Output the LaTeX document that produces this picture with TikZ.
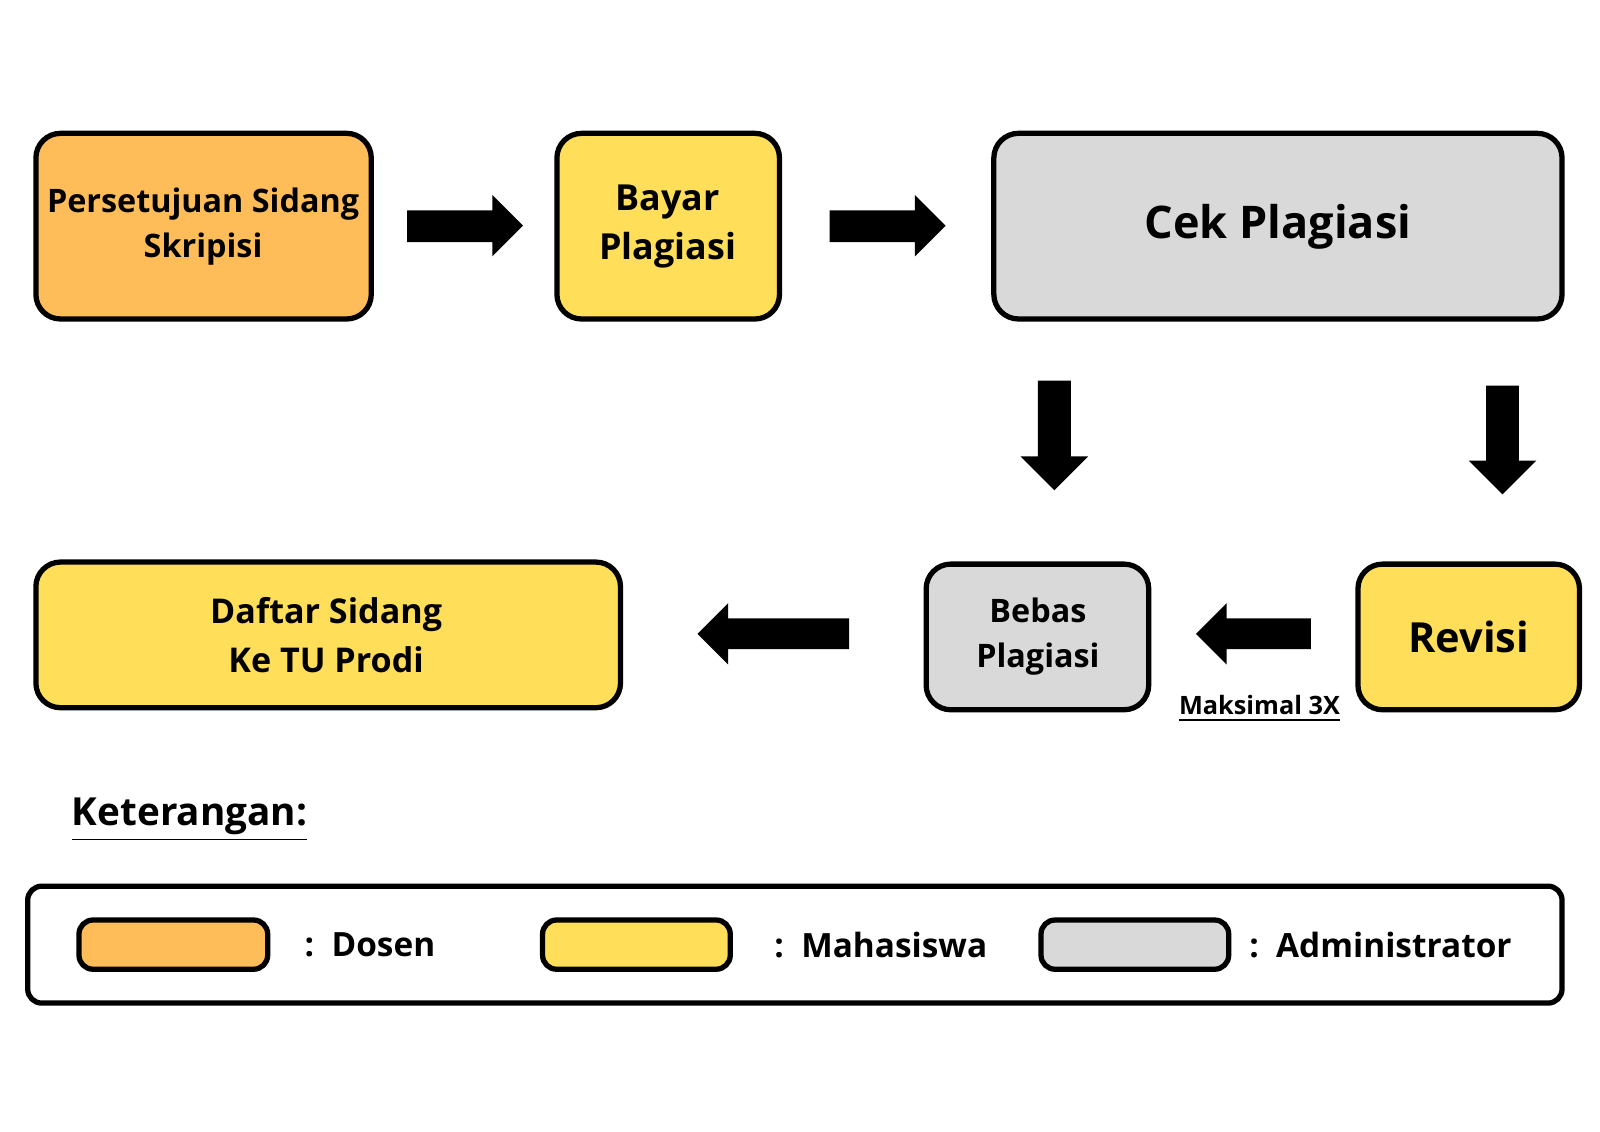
\documentclass[tikz,border=0pt]{standalone}
\usepackage{fontspec}
\setmainfont{Open Sans}[BoldFont={* Bold}]
\definecolor{dosen}{HTML}{FFBD59}
\definecolor{mhs}{HTML}{FFDE59}
\definecolor{adm}{HTML}{D9D9D9}
\tikzset{
  box/.style={draw=black,line width=1.5pt,rounded corners=7pt,align=center,font=\bfseries},
  legbox/.style={draw=black,line width=1.5pt,rounded corners=4pt},
  blk/.style={fill=black,draw=none}
}
\begin{document}
\begin{tikzpicture}[x=0.01026cm,y=-0.01026cm]
\useasboundingbox (0,0) rectangle (1560,1103);
% boxes
\draw[box,fill=dosen] (35,130) rectangle (362,311);
\node[font=\bfseries\fontsize{9.2}{13}\selectfont,align=center] (a) at (198,221) {Persetujuan Sidang\\Skripisi};
\draw[box,fill=mhs] (543,130) rectangle (760,311);
\node[font=\bfseries\fontsize{10.2}{14}\selectfont,align=center] (b) at (651,221) {Bayar\\Plagiasi};
\draw[box,fill=adm] (969,130) rectangle (1523,311);
\node[font=\bfseries\fontsize{12.8}{15}\selectfont] (c) at (1246,221) {Cek Plagiasi};
\draw[box,fill=mhs] (35,548) rectangle (605,690);
\node[font=\bfseries\fontsize{9.7}{13.8}\selectfont,align=center] (d) at (318,619) {Daftar Sidang\\Ke TU Prodi};
\draw[box,fill=adm] (903,550) rectangle (1120,692);
\node[font=\bfseries\fontsize{9.2}{12.8}\selectfont,align=center] (e) at (1012,621) {Bebas\\Plagiasi};
\draw[box,fill=mhs] (1324,550) rectangle (1540,692);
\node[font=\bfseries\fontsize{11.8}{14}\selectfont] (f) at (1432,621) {Revisi};
% arrows right
\fill[blk] (397,205) -- (480,205) -- (480,190) -- (510,220) -- (480,250) -- (480,236) -- (397,236) -- cycle;
\fill[blk] (809,205) -- (892,205) -- (892,190) -- (922,220) -- (892,250) -- (892,236) -- (809,236) -- cycle;
% arrows down
\fill[blk] (1012,371) -- (1044,371) -- (1044,445) -- (1061,445) -- (1028,478) -- (995,445) -- (1012,445) -- cycle;
\fill[blk] (1449,376) -- (1481,376) -- (1481,449) -- (1498,449) -- (1465,482) -- (1432,449) -- (1449,449) -- cycle;
% arrows left
\fill[blk] (828,603) -- (710,603) -- (710,588) -- (680,618) -- (710,648) -- (710,633) -- (828,633) -- cycle;
\fill[blk] (1278,603) -- (1196,603) -- (1196,588) -- (1166,618) -- (1196,648) -- (1196,633) -- (1278,633) -- cycle;
\node[font=\bfseries\fontsize{7.2}{8}\selectfont] (m) at (1228,691) {\underline{Maksimal 3X}};
% legend
\node[font=\bfseries\fontsize{11}{13}\selectfont,anchor=west] (k) at (58,799) {\underline{Keterangan:}};
\draw[line width=1.5pt,rounded corners=4pt] (27,864) rectangle (1523,978);
\draw[legbox,fill=dosen] (77,897) rectangle (261,945);
\draw[legbox,fill=mhs] (529,897) rectangle (712,945);
\draw[legbox,fill=adm] (1015,897) rectangle (1198,945);
\node[font=\bfseries\fontsize{9.5}{12}\selectfont,anchor=west] (l1) at (285,921) {:\ \ Dosen};
\node[font=\bfseries\fontsize{9.5}{12}\selectfont,anchor=west] (l2) at (743,921) {:\ \ Mahasiswa};
\node[font=\bfseries\fontsize{9.5}{12}\selectfont,anchor=west] (l3) at (1206,921) {:\ \ Administrator};
\end{tikzpicture}
\end{document}
